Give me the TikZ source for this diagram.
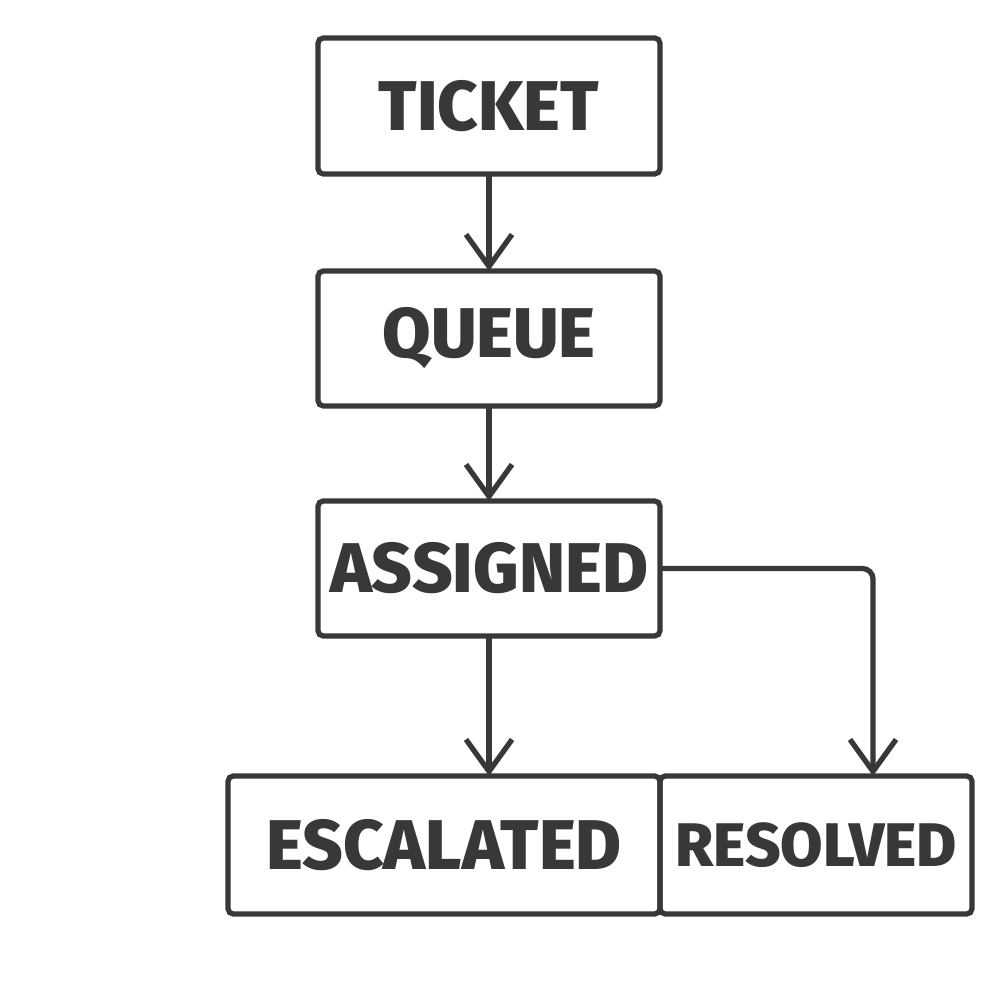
\documentclass[tikz,border=0pt]{standalone}
\usepackage{fontspec}
\setmainfont{Fira Sans}[BoldFont={Fira Sans ExtraBold}]
\usepackage{tikz}
\usetikzlibrary{positioning,arrows.meta}
\definecolor{ink}{HTML}{383838}

\begin{document}
\begin{tikzpicture}[x=1cm,y=1cm,
  state/.style={draw=ink, line width=1.5pt, rounded corners=1.5pt, minimum width=3.42cm, minimum height=1.35cm, inner sep=0pt, outer sep=0pt, text=ink, font=\fontsize{20}{24}\selectfont\bfseries},
  flow/.style={draw=ink, line width=1.5pt, -{Straight Barb[length=3.2mm, width=4.6mm, line width=1.5pt]}}]
\useasboundingbox (0,0) rectangle (10,10);
\node[state, minimum height=1.36cm] (ticket) at (4.89,8.94) {TICKET};
\node[state, below=0.97cm of ticket] (queue) {QUEUE};
\node[state, below=0.95cm of queue] (assigned) {ASSIGNED};
\node[state, minimum width=4.32cm, minimum height=1.38cm, below=1.4cm of assigned, xshift=-0.45cm] (escalated) {ESCALATED};
\node[state, minimum width=3.12cm, minimum height=1.38cm, right=0pt of escalated, font=\fontsize{17.5}{21}\selectfont\bfseries] (resolved) {RESOLVED};
\coordinate (turn) at (8.73,4.33);
\draw[flow] (ticket) -- (queue);
\draw[flow] (queue) -- (assigned);
\draw[flow] (assigned.south) -- (assigned.south |- escalated.north);
\draw[flow, rounded corners=3pt] (assigned.east) -| (turn |- resolved.north);
\end{tikzpicture}
\end{document}
